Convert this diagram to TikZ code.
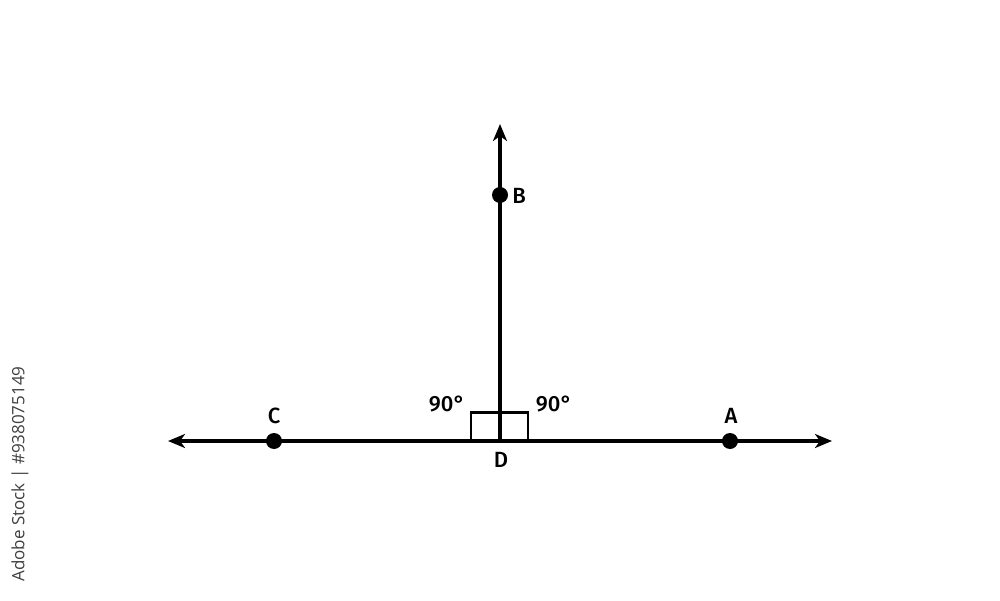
\documentclass[tikz,border=0pt]{standalone}
\usepackage{fontspec}
\setmainfont{Fira Sans}[UprightFont={* Medium}]
\newfontfamily\wmfont{Open Sans}
\usetikzlibrary{arrows.meta}
\begin{document}
\begin{tikzpicture}[x=1pt,y=-1pt,
  ln/.style={line width=3.2pt,-{Stealth[length=17pt,width=14pt,inset=5pt]}},
  pt/.style={circle,fill=black,inner sep=0pt,minimum size=16pt},
  lbl/.style={font=\fontsize{22}{22}\selectfont,inner sep=0pt}]
\useasboundingbox (0,0) rectangle (1000,601);
\fill[white] (0,0) rectangle (1000,601);
\coordinate (D) at (500,441);
\coordinate (L) at (168,441);
\coordinate (R) at (832,441);
\coordinate (T) at (500,124);
\draw[ln] (D) -- (L);
\draw[ln] (D) -- (R);
\draw[ln] (D) -- (T);
\draw[line width=2.8pt] (471,441) -- (471,412.5) -- (528,412.5) -- (528,441);
\node[pt] (B) at (500,195) {};
\node[pt] (C) at (274,441) {};
\node[pt] (A) at (730,441) {};
\node[lbl] (lB) at (519,196) {B};
\node[lbl] (lC) at (274,416) {C};
\node[lbl] (lA) at (731,416) {A};
\node[lbl] (lD) at (501,460) {D};
\node[lbl] (a1) at (447,404) {90°};
\node[lbl] (a2) at (554,404) {90°};
\node[rotate=90,font=\wmfont\fontsize{17}{17}\selectfont,text=black!75,inner sep=0pt] (wm) at (20,474) {Adobe Stock | \#938075149};
\end{tikzpicture}
\end{document}
